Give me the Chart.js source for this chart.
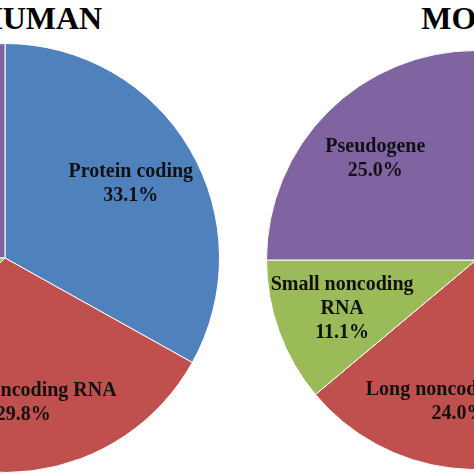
<!DOCTYPE html>
<html>
<head>
<meta charset="utf-8">
<script src="https://cdn.jsdelivr.net/npm/chart.js@4"></script>
<style>
  html, body { margin: 0; padding: 0; width: 474px; height: 474px; overflow: hidden; background: #fff; position: relative; }
  .pie { position: absolute; }
  .ttl { position: absolute; font: bold 32px "Liberation Serif", serif; color: #000; white-space: nowrap; transform: translateX(-50%); }
</style>
</head>
<body>
<div class="ttl" style="left:40px;top:0px">HUMAN</div>
<div class="ttl" style="left:480px;top:0px">MOUSE</div>
<div class="pie" style="left:-210px;top:43px;width:430px;height:430px"><canvas id="human"></canvas></div>
<div class="pie" style="left:266px;top:50px;width:420px;height:420px"><canvas id="mouse"></canvas></div>
<script>
const categories = [['Protein coding'], ['Long noncoding RNA'], ['Small noncoding', 'RNA'], ['Pseudogene']];
const humanValues = [33.1, 29.8, 13.0, 24.1];
const mouseValues = [39.9, 24.0, 11.1, 25.0];
const colors = ['#4F81BD', '#C0504D', '#9BBB59', '#8064A2'];

const labelPlugin = {
    id: 'sliceLabels',
    afterDatasetsDraw(chart) {
        const ctx = chart.ctx;
        const ds = chart.data.datasets[0];
        chart.getDatasetMeta(0).data.forEach((arc, i) => {
            const { x, y, startAngle, endAngle, outerRadius } = arc.getProps(['x', 'y', 'startAngle', 'endAngle', 'outerRadius'], true);
            const mid = (startAngle + endAngle) / 2;
            const r = outerRadius * 0.68;
            const lx = x + Math.cos(mid) * r, ly = y + Math.sin(mid) * r;
            const lines = [...categories[i], ds.data[i].toFixed(1) + '%'];
            ctx.save();
            ctx.font = 'bold 20px "Liberation Serif", serif';
            ctx.fillStyle = '#111';
            ctx.textAlign = 'center';
            ctx.textBaseline = 'middle';
            const lh = 24;
            lines.forEach((t, k) => ctx.fillText(t, lx, ly + (k - (lines.length - 1) / 2) * lh));
            ctx.restore();
        });
    }
};

function makePie(id, values) {
    new Chart(document.getElementById(id), {
        type: 'pie',
        data: {
            labels: categories.map(c => c.join(' ')),
            datasets: [{ data: values, backgroundColor: colors, borderColor: '#fff', borderWidth: 1 }]
        },
        options: {
            responsive: true, maintainAspectRatio: false, animation: false,
            layout: { padding: 0 },
            plugins: { legend: { display: false }, tooltip: { enabled: false } }
        },
        plugins: [labelPlugin]
    });
}

makePie('human', humanValues);
makePie('mouse', mouseValues);
</script>
</body>
</html>
